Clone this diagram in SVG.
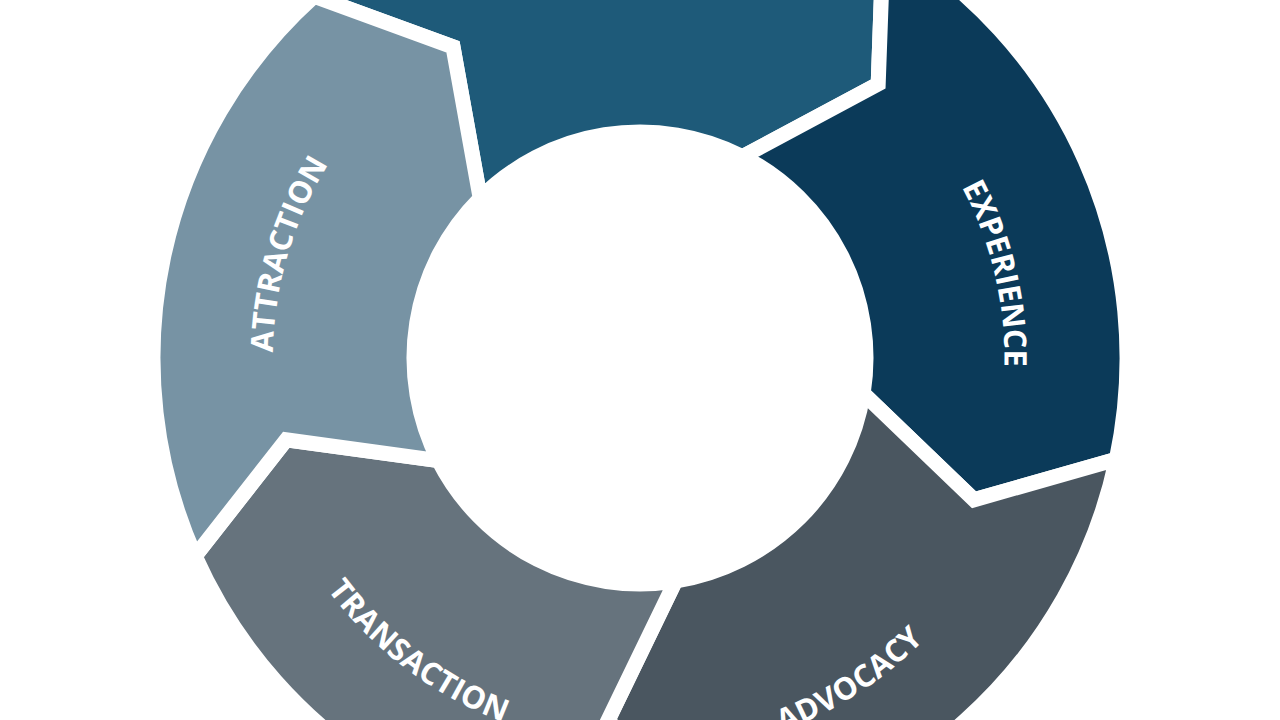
<svg xmlns="http://www.w3.org/2000/svg" width="1280" height="720" viewBox="0 0 1280 720">
  <style>
    .seg { stroke: #ffffff; stroke-width: 15; stroke-linejoin: miter; stroke-miterlimit: 10; }
    .lbl { font-family: "Open Sans", "Liberation Sans", sans-serif; font-size: 31px; font-weight: 700; fill: #ffffff; letter-spacing: 0.2px; }
  </style>
  <defs>
    <path id="arc-attraction" d="M 324.1 544.8 A 367 367 0 0 1 475.7 29.8"/>
    <path id="arc-experience" d="M 820.6 41.4 A 364.5 364.5 0 0 1 943.2 560.2"/>
    <path id="arc-transaction" d="M 252.5 391.9 A 389 389 0 0 0 714.2 739.9"/>
    <path id="arc-advocacy" d="M 536.5 744.4 A 400 400 0 0 0 1035.1 420.6"/>
  </defs>
  <rect width="1280" height="720" fill="#ffffff"/>
  <g id="node-top">
    <path class="seg" fill="#1e5a79" d="M 314.1 -3.9 A 487 487 0 0 1 883.5 -63.8 L 878.2 84.0 L 742.6 156.6 A 226 226 0 0 0 480.2 198.2 L 453.0 46.9 Z"/>
  </g>
  <g id="node-experience">
    <path class="seg" fill="#0b3a59" d="M 883.5 -63.8 A 487 487 0 0 1 1116.4 459.3 L 974.1 499.8 L 863.2 393.4 A 226 226 0 0 0 742.6 156.6 L 878.2 84.0 Z"/>
    <text class="lbl"><textPath href="#arc-experience" startOffset="50%" text-anchor="middle">EXPERIENCE</textPath></text>
  </g>
  <g id="node-advocacy">
    <path class="seg" fill="#4a5660" d="M 1116.4 459.3 A 487 487 0 0 1 690.9 842.3 L 608.4 719.6 L 675.4 581.2 A 226 226 0 0 0 863.2 393.4 L 974.1 499.8 Z"/>
    <text class="lbl"><textPath href="#arc-advocacy" startOffset="50%" text-anchor="middle">ADVOCACY</textPath></text>
  </g>
  <g id="node-transaction">
    <path class="seg" fill="#66737d" d="M 690.9 842.3 A 487 487 0 0 1 195.1 556.1 L 286.3 439.7 L 438.6 460.6 A 226 226 0 0 0 675.4 581.2 L 608.4 719.6 Z"/>
    <text class="lbl"><textPath href="#arc-transaction" startOffset="50%" text-anchor="middle">TRANSACTION</textPath></text>
  </g>
  <g id="node-attraction">
    <path class="seg" fill="#7793a4" d="M 195.1 556.1 A 487 487 0 0 1 314.1 -3.9 L 453.0 46.9 L 480.2 198.2 A 226 226 0 0 0 438.6 460.6 L 286.3 439.7 Z"/>
    <text class="lbl"><textPath href="#arc-attraction" startOffset="50%" text-anchor="middle">ATTRACTION</textPath></text>
  </g>
  <g id="connectors"/>
</svg>
